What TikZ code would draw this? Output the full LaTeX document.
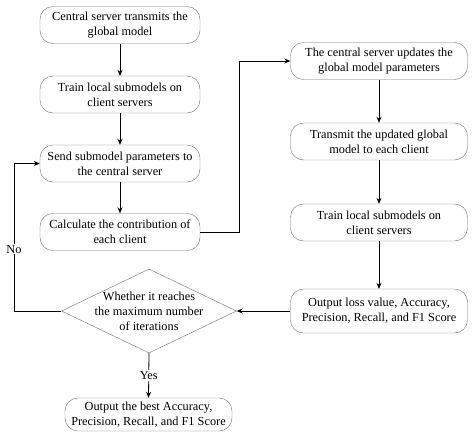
\documentclass[tikz,border=0pt]{standalone}
\usepackage{fontspec}
\setmainfont{Liberation Serif}
\usepackage{tikz}
\usetikzlibrary{arrows.meta, positioning, shapes.geometric}
\definecolor{boxgray}{HTML}{707070}

\begin{document}
\begin{tikzpicture}[x=1pt, y=-1pt, font=\fontsize{12.3}{15}\selectfont,
  stepbox/.style={draw=boxgray, rounded corners=13pt, align=center,
    minimum width=160pt, minimum height=37pt, inner sep=1pt},
  widebox/.style={stepbox, minimum width=177pt},
  decision/.style={draw=boxgray, diamond, aspect=2.08, inner sep=0pt,
    minimum width=175pt, minimum height=84pt},
  flow/.style={-{Stealth[length=6pt, width=5pt]}, line width=0.8pt}]
  \useasboundingbox (0,0) rectangle (474,442);

  % left column
  \node[stepbox] (send) at (120,25) {Central server transmits the\\global model};
  \node[stepbox] (train) at (120,94.5) {Train local submodels on\\client servers};
  \node[stepbox] (upload) at (120,163.5) {Send submodel parameters to\\the central server};
  \node[stepbox] (contrib) at (120,232) {Calculate the contribution of\\each client};

  % right column
  \node[widebox] (update) at (379,61) {The central server updates the\\global model parameters};
  \node[widebox] (bcast) at (379,141.5) {Transmit the updated global\\model to each client};
  \node[widebox] (retrain) at (379,222.5) {Train local submodels on\\client servers};
  \node[widebox, minimum height=44pt] (metrics) at (379,311) {Output loss value, Accuracy,\\Precision, Recall, and F1 Score};

  % check and result
  \node[decision] (check) at (149,311) {};
  \node[align=center] at (check) {Whether it reaches\\the maximum number\\of iterations};
  \node[stepbox, minimum width=167pt, minimum height=33pt] (best) at (148.5,414.5) {Output the best Accuracy,\\Precision, Recall, and F1 Score};

  \coordinate (nobend) at (14,311);

  \draw[flow] (send) -- (train);
  \draw[flow] (train) -- (upload);
  \draw[flow] (upload) -- (contrib);
  \draw[flow] (contrib.east) -- ++(39,0) |- (update.west);
  \draw[flow] (update) -- (bcast);
  \draw[flow] (bcast) -- (retrain);
  \draw[flow] (retrain) -- (metrics);
  \draw[flow] (metrics.west) -- (check.east);
  \draw[flow] (check.west) -- (nobend) |- node[pos=0.21, fill=white, inner sep=1pt] {No} (upload.west);
  \draw[flow] (check.south) -- node[fill=white, inner sep=1pt] {Yes} (best.north);
\end{tikzpicture}
\end{document}
